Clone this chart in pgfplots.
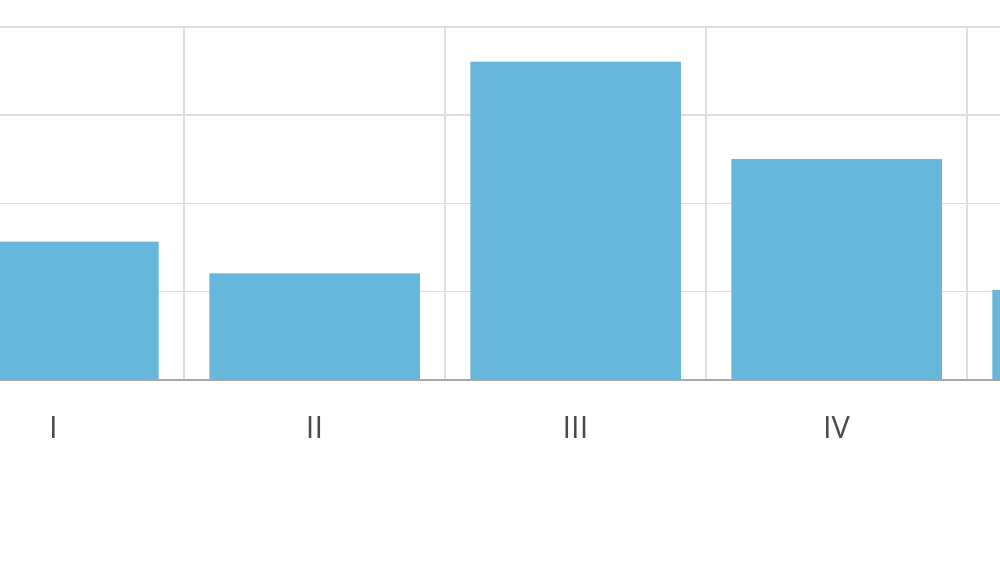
\documentclass[border=0pt]{standalone}
\usepackage{pgfplots}
\pgfplotsset{compat=1.18}
\usepackage{fontspec}
\setmainfont{Open Sans}
\definecolor{barblue}{HTML}{67B6DC}
\definecolor{gridc}{HTML}{DEDEDE}
\definecolor{basec}{HTML}{A8A8A8}
\definecolor{labc}{HTML}{4A4A4A}
\begin{document}
\begin{tikzpicture}
\useasboundingbox (0,0) rectangle (400pt,224.8pt);
\clip (0,0) rectangle (400pt,224.8pt);
\begin{axis}[
  anchor=origin, at={(21.4pt,72.8pt)},
  x=104.4pt, y=35.3pt,
  xmin=-0.5, xmax=4.5, ymin=0, ymax=4,
  axis x line*=bottom, axis y line*=left,
  x axis line style={draw=basec, line width=0.6pt, -},
  y axis line style={draw=none},
  xtick={0,1,2,3},
  xticklabels={I,II,III,IV},
  minor xtick={-0.5,0.5,1.5,2.5,3.5,4.5},
  major tick length=0pt, minor tick length=0pt,
  xminorgrids, minor x grid style={draw=gridc, line width=0.6pt},
  ytick={1,2,3,4}, yticklabel=\empty,
  ymajorgrids, y grid style={draw=gridc, line width=0.6pt},
  xticklabel style={font=\fontsize{12.3}{14}\selectfont, text=labc, yshift=-11pt},
  clip=false,
]
\addplot[ybar, bar width=84.2pt, fill=barblue, draw=none, bar shift=0pt]
  coordinates {(0,1.567) (1,1.209) (2,3.607) (3,2.504) (4,1.02)};
\end{axis}
\end{tikzpicture}
\end{document}
